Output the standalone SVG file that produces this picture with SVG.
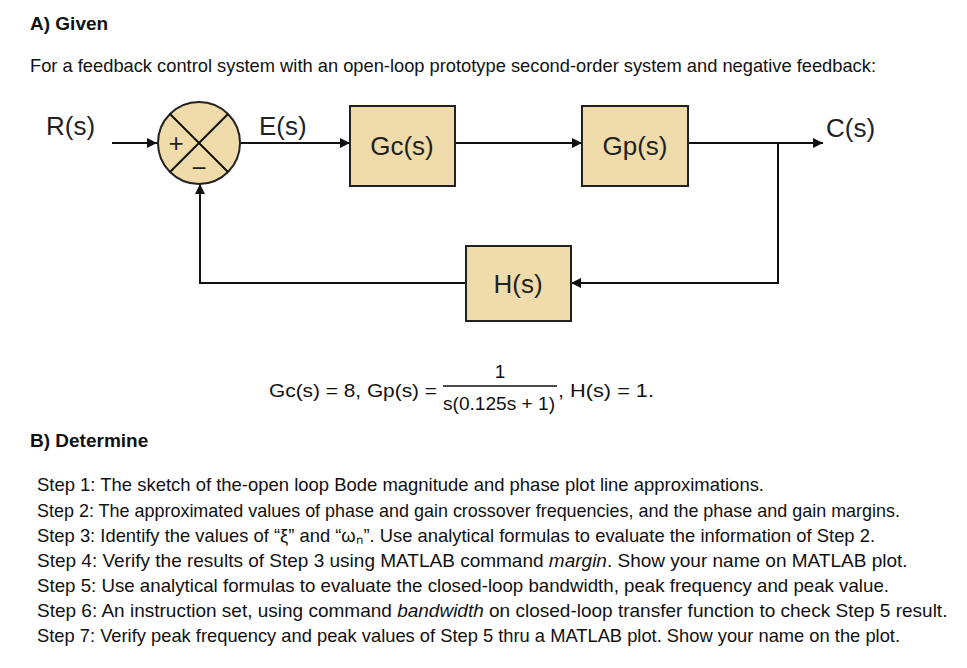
<svg xmlns="http://www.w3.org/2000/svg" width="967" height="668" viewBox="0 0 967 668">
<style>
.t{font-family:"Liberation Sans",Arial,sans-serif;font-size:19px;fill:#111}
.b{font-weight:bold}
.lbl{font-family:"Liberation Sans",Arial,sans-serif;font-size:26px;fill:#222}
.box{fill:#efdcaa;stroke:#222;stroke-width:2}
.ln{stroke:#111;stroke-width:2;fill:none}
</style>
<defs><marker id="ar" viewBox="0 0 10 10" refX="10" refY="5" markerWidth="10" markerHeight="10" markerUnits="userSpaceOnUse" orient="auto"><path d="M0,0L10,5L0,10z" fill="#111"/></marker></defs>
<rect width="967" height="668" fill="#fff"/>
<text class="t b" x="30" y="30">A) Given</text>
<text class="t" x="30" y="72" textLength="846" lengthAdjust="spacingAndGlyphs">For a feedback control system with an open-loop prototype second-order system and negative feedback:</text>
<g id="connectors">
<path class="ln" d="M112,143H157" marker-end="url(#ar)"/>
<path class="ln" d="M240,143H350" marker-end="url(#ar)"/>
<path class="ln" d="M455,143H582" marker-end="url(#ar)"/>
<path class="ln" d="M688,143H823" marker-end="url(#ar)"/>
<path class="ln" d="M778,143V283H571" marker-end="url(#ar)"/>
<path class="ln" d="M466,283H200V184" marker-end="url(#ar)"/>
</g>
<g id="sum">
<circle cx="199" cy="143" r="41" class="box"/>
<path class="ln" d="M170,114L228,172M228,114L170,172" stroke-width="1.5"/>
<text class="lbl" x="176" y="152" text-anchor="middle">+</text>
<text class="lbl" x="199" y="177" text-anchor="middle">−</text>
</g>
<text class="lbl" x="46" y="135">R(s)</text>
<text class="lbl" x="259" y="135">E(s)</text>
<text class="lbl" x="826" y="137">C(s)</text>
<g id="Gc"><rect class="box" x="350" y="106" width="105" height="80"/><text class="lbl" x="402" y="155" text-anchor="middle">Gc(s)</text></g>
<g id="Gp"><rect class="box" x="582" y="106" width="106" height="80"/><text class="lbl" x="635" y="155" text-anchor="middle">Gp(s)</text></g>
<g id="H"><rect class="box" x="466" y="246" width="105" height="75"/><text class="lbl" x="518" y="293" text-anchor="middle">H(s)</text></g>
<text class="t" x="269" y="397" textLength="168" lengthAdjust="spacingAndGlyphs">Gc(s) = 8,  Gp(s) =</text>
<text class="t" x="500" y="378" text-anchor="middle">1</text>
<line x1="443" y1="386" x2="557" y2="386" stroke="#111" stroke-width="1.3"/>
<text class="t" x="443" y="410" textLength="112" lengthAdjust="spacingAndGlyphs">s(0.125s + 1)</text>
<text class="t" x="558" y="397" textLength="96" lengthAdjust="spacingAndGlyphs">,  H(s) = 1.</text>
<text class="t b" x="30" y="447">B) Determine</text>
<text class="t" x="37" y="491" textLength="727" lengthAdjust="spacingAndGlyphs">Step 1: The sketch of the-open loop Bode magnitude and phase plot line approximations.</text>
<text class="t" x="37" y="517" textLength="863" lengthAdjust="spacingAndGlyphs">Step 2: The approximated values of phase and gain crossover frequencies, and the phase and gain margins.</text>
<text class="t" x="37" y="542" textLength="838" lengthAdjust="spacingAndGlyphs">Step 3: Identify the values of “ξ” and “ωₙ”.  Use analytical formulas to evaluate the information of Step 2.</text>
<text class="t" x="37" y="567">Step 4: Verify the results of Step 3 using MATLAB command <tspan font-style="italic">margin</tspan>.  Show your name on MATLAB plot.</text>
<text class="t" x="37" y="592" textLength="852" lengthAdjust="spacingAndGlyphs">Step 5: Use analytical formulas to evaluate the closed-loop bandwidth, peak frequency and peak value.</text>
<text class="t" x="37" y="617">Step 6: An instruction set, using command <tspan font-style="italic">bandwidth</tspan> on closed-loop transfer function to check Step 5 result.</text>
<text class="t" x="37" y="642" textLength="863" lengthAdjust="spacingAndGlyphs">Step 7: Verify peak frequency and peak values of Step 5 thru a MATLAB plot. Show your name on the plot.</text>
</svg>
